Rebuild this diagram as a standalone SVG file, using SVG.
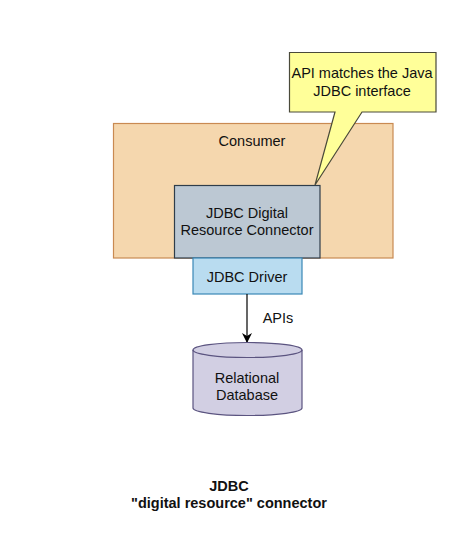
<svg xmlns="http://www.w3.org/2000/svg" width="474" height="549" viewBox="0 0 474 549">
  <style>
    text { font-family: "Liberation Sans", Arial, sans-serif; font-size: 14.5px; fill: #111; text-anchor: middle; }
    .bold { font-weight: bold; }
  </style>
  <defs>
    <marker id="arrow" viewBox="0 0 10 10" refX="9" refY="5" markerWidth="10" markerHeight="10" markerUnits="userSpaceOnUse" orient="auto">
      <path d="M0,0 L10,5 L0,10 L3,5 Z" fill="#000"/>
    </marker>
  </defs>
  <rect width="474" height="549" fill="#fff"/>

  <g id="consumer">
    <rect x="113.5" y="123.5" width="279.5" height="134.5" fill="#f5d7ae" stroke="#c98a52" stroke-width="1.2"/>
    <text x="252" y="146">Consumer</text>
  </g>

  <g id="callout">
    <path d="M289.5,52.5 H436 V112 H362 L315,185 L335,112 H289.5 Z" fill="#ffff99" stroke="#4a4a3a" stroke-width="1.2"/>
    <text x="362" y="78">API matches the Java</text>
    <text x="362" y="96">JDBC interface</text>
  </g>

  <g id="connector">
    <rect x="174.5" y="185.5" width="145.5" height="72.5" fill="#bcc8d3" stroke="#2f3d4a" stroke-width="1.2"/>
    <text x="247" y="218">JDBC Digital</text>
    <text x="247" y="235">Resource Connector</text>
  </g>

  <g id="driver">
    <rect x="193" y="258" width="109" height="36" fill="#b9dcf0" stroke="#3a88b6" stroke-width="1.2"/>
    <text x="247" y="282">JDBC Driver</text>
  </g>

  <g id="connectors">
    <line x1="247" y1="294" x2="247" y2="342" stroke="#000" stroke-width="1.2" marker-end="url(#arrow)"/>
    <text x="278" y="323">APIs</text>
  </g>

  <g id="database">
    <path d="M193,350 A54.5,7.5 0 0 1 302,350 V408 A54.5,7.5 0 0 1 193,408 Z" fill="#d2cfe3" stroke="#5b5480" stroke-width="1.2"/>
    <path d="M193,350 A54.5,7.5 0 0 0 302,350" fill="none" stroke="#5b5480" stroke-width="1.2"/>
    <text x="247" y="383">Relational</text>
    <text x="247" y="400">Database</text>
  </g>

  <g id="caption">
    <text class="bold" x="229" y="491">JDBC</text>
    <text class="bold" x="229" y="508">"digital resource" connector</text>
  </g>
</svg>
